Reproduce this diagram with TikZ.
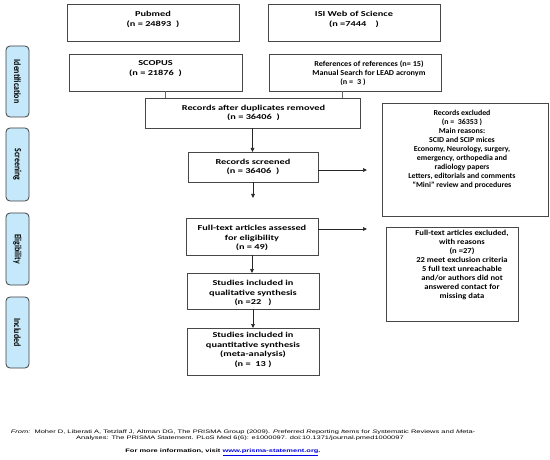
\documentclass[tikz,border=0pt]{standalone}
\usepackage{fontspec}
\usepackage{graphicx}
\usetikzlibrary{arrows.meta}
\setmainfont{Carlito}
\newfontfamily\fntA{Carlito}[FakeStretch=1.36]
\newfontfamily\fntB{Carlito}[FakeStretch=1.04]
\newfontfamily\fntC{Carlito}[FakeStretch=1.13]
\newfontfamily\fntR{Carlito}[FakeStretch=1.08]
\newfontfamily\fntF{Liberation Sans}[FakeStretch=1.5]
\definecolor{sidefill}{RGB}{197,233,250}
\definecolor{linkblue}{RGB}{0,0,230}
\begin{document}
\begin{tikzpicture}[x=1pt,y=-1pt,
  box/.style={draw=black!72, line width=0.9pt, inner sep=0pt, outer sep=0pt, fill=white},
  side/.style={draw=black!75, line width=0.8pt, fill=sidefill, rounded corners=4pt, inner sep=0pt, outer sep=0pt, minimum width=23pt},
  sidetxt/.style={inner sep=0pt, font=\bfseries\fontsize{7.9}{9}\selectfont},
  txtA/.style={align=center, inner sep=0pt, font=\fntA\bfseries\fontsize{7.6}{9.5}\selectfont},
  txtB/.style={align=center, inner sep=0pt, font=\fntB\bfseries\fontsize{7.6}{9.1}\selectfont},
  txtC/.style={align=center, inner sep=0pt, font=\fntC\bfseries\fontsize{7.6}{9.1}\selectfont},
  txtR/.style={align=center, inner sep=0pt, font=\fntR\bfseries\fontsize{7.6}{9}\selectfont},
  foot/.style={align=center, inner sep=0pt, font=\fntF\fontsize{5}{6}\selectfont},
  arr/.style={draw=black!85, line width=0.7pt, -{Triangle[length=4pt,width=3.6pt]}},
  tick/.style={draw=black!60, line width=0.6pt}]
\fill[white] (0,0) rectangle (550,460);
\useasboundingbox (0,0) rectangle (550,460);

% side labels
\node[side, minimum height=71pt] (sid) at (17.5,81.5) {};
\node[sidetxt] at (sid) {\scalebox{1.2}[1]{\rotatebox{-90}{Identification}}};
\node[side, minimum height=73pt] (sscr) at (17.5,164.5) {};
\node[sidetxt] at (sscr) {\scalebox{1.2}[1]{\rotatebox{-90}{Screening}}};
\node[side, minimum height=72pt] (selg) at (17.5,249) {};
\node[sidetxt] at (selg) {\scalebox{1.2}[1]{\rotatebox{-90}{Eligibility}}};
\node[side, minimum height=71pt] (sinc) at (17.5,332.5) {};
\node[sidetxt] at (sinc) {\scalebox{1.2}[1]{\rotatebox{-90}{Included}}};

% boxes
\node[box, minimum width=172pt, minimum height=37pt] (pub) at (153,22.5) {};
\node[txtA] at (153,19.5) {Pubmed\\(n = 24893~~)};
\node[box, minimum width=172pt, minimum height=37pt] (isi) at (354,22.5) {};
\node[txtA] at (354,19.5) {ISI Web of Science\\(n =7444~~~~)};
\node[box, minimum width=173pt, minimum height=37pt] (sco) at (155.5,72.5) {};
\node[txtA] at (155.5,68.5) {SCOPUS\\(n = 21876~~)};
\node[box, minimum width=172pt, minimum height=37pt] (ref) at (355,72.5) {};
\node[txtR] at (369,68.5) {References of references (n= 15)\\Manual Search for LEAD acronym};
\node[txtR] at (353,82) {(n =~~3 )};
\node[box, minimum width=215pt, minimum height=30pt] (dup) at (252.5,113) {};
\node[txtA] at (253.5,113) {Records after duplicates removed\\(n = 36406~~)};
\node[box, minimum width=130pt, minimum height=30pt] (scr) at (253,167) {};
\node[txtA] at (253,167) {Records screened\\(n = 36406~~)};
\node[box, minimum width=166pt, minimum height=113pt] (exc) at (465,159.5) {};
\node[txtB] at (462,149.5) {Records excluded\\(n =~~36353 )\\Main reasons:\\SCID and SCIP mices\\Economy, Neurology, surgery,\\emergency, orthopedia and\\radiology papers\\Letters, editorials and comments\\“Mini” review and procedures};
\node[box, minimum width=132pt, minimum height=37pt] (ful) at (252,236.5) {};
\node[txtA] at (252,238) {Full-text articles assessed\\for eligibility\\(n = 49)};
\node[box, minimum width=132pt, minimum height=94pt] (fte) at (452,274) {};
\node[txtC] at (462,265) {Full-text articles excluded,\\with reasons\\(n =27)\\22 meet exclusion criteria\\5 full text unreachable\\and/or authors did not\\answered contact for\\missing data};
\node[box, minimum width=132pt, minimum height=36pt] (qua) at (253,291) {};
\node[txtA] at (253,293) {Studies included in\\qualitative synthesis\\(n =22~~~)};
\node[box, minimum width=132pt, minimum height=47pt] (qnt) at (253,351.5) {};
\node[txtA] at (253,350) {Studies included in\\quantitative synthesis\\(meta-analysis)\\(n =~~13 )};

% connectors
\coordinate (t1) at (165,95);
\coordinate (t2) at (342,95);
\draw[tick] (sco.south -| t1) -- (dup.north -| t1);
\draw[tick] (ref.south -| t2) -- (dup.north -| t2);
\draw[arr] (dup.south) -- (dup.south |- scr.north);
\coordinate (c1) at (253,198);
\draw[arr] (scr.south) -- (c1);
\coordinate (c2) at (367,170);
\draw[arr] (scr.east |- c2) -- (c2);
\coordinate (c3) at (367,229);
\draw[arr] (ful.east |- c3) -- (c3);
\draw[arr] (ful.south) -- (ful.south |- qua.north);
\draw[arr] (qua.south) -- (qua.south |- qnt.north);

% footer
\node[foot] (f1) at (243,432) {\textit{From:}~~Moher D, Liberati A, Tetzlaff J, Altman DG, The PRISMA Group (2009). \textit{P}referred \textit{R}eporting \textit{I}tems for \textit{S}ystematic Reviews and \textit{M}eta-};
\node[foot] (f2) at (240,438) {Analyses: The PRISMA Statement. PLoS Med 6(6): e1000097. doi:10.1371/journal.pmed1000097};
\node[foot, font=\fntF\bfseries\fontsize{5}{6}\selectfont] (f3) at (223,452) {For more information, visit \textcolor{linkblue}{\underline{www.prisma-statement.org}}.};
\end{tikzpicture}
\end{document}
